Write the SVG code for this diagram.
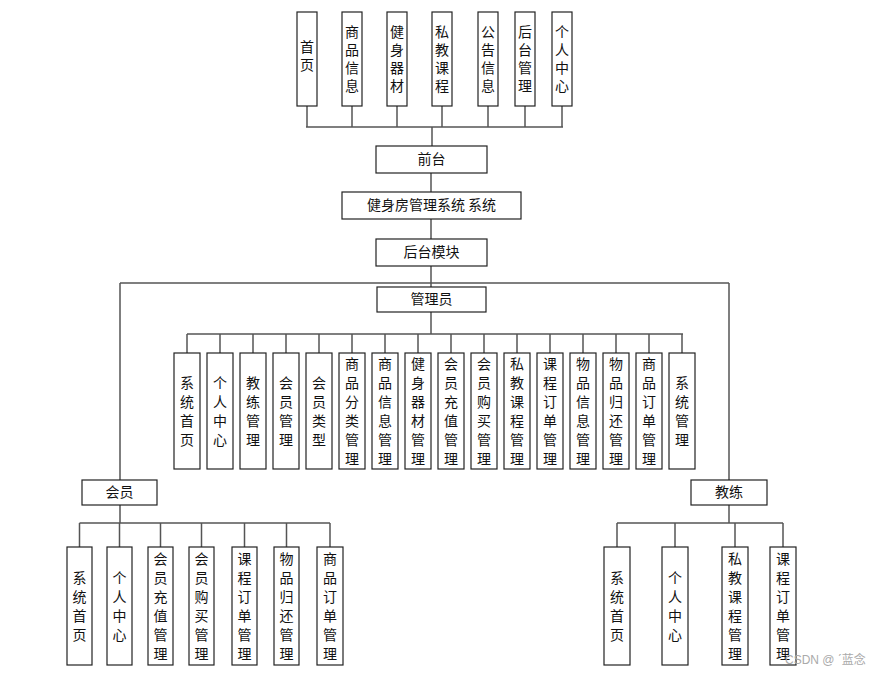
<svg xmlns="http://www.w3.org/2000/svg" width="888" height="674" viewBox="0 0 888 674">
<style>
.b{fill:#fff;stroke:#222;stroke-width:1.2}
.t{font-family:"Noto Sans CJK SC","Liberation Sans",sans-serif;font-size:14px;fill:#111;text-anchor:middle}
.c{fill:none;stroke:#555;stroke-width:1.5}
.w{font-family:"Liberation Sans","Noto Sans CJK SC",sans-serif;font-size:12px;fill:#aaa}
</style>
<rect width="888" height="674" fill="#fff"/>
<g id="connectors" class="c">
<path d="M307,106V127M352,106V127M397,106V127M442,106V127M488,106V127M525,106V127M562,106V127M306,127H563M432,127V146"/>
<path d="M431,173V192M431,219V239M431,266V287M120,283H729M120,283V480M729,283V480"/>
<path d="M431,312V334M187,334H683M187,334V353M220,334V353M253,334V353M286,334V353M319,334V353M352,334V353M385,334V353M418,334V353M451,334V353M484,334V353M517,334V353M550,334V353M583,334V353M616,334V353M649,334V353M682,334V353"/>
<path d="M120,505V523M79.5,523H330M79.5,523V547M119.5,523V547M160.5,523V547M201.5,523V547M244.5,523V547M286.5,523V547M330,523V547"/>
<path d="M729,505V523M617,523H783M617,523V547M675,523V547M735,523V547M783,523V547"/>
</g>
<g id="top-shouye"><rect class="b" x="297" y="12" width="20" height="94"/><text class="t" x="307 307" y="52 70">首页</text></g>
<g id="top-shangpin"><rect class="b" x="342" y="12" width="20" height="94"/><text class="t" x="352 352 352 352" y="37 55 73 91">商品信息</text></g>
<g id="top-qicai"><rect class="b" x="387" y="12" width="20" height="94"/><text class="t" x="397 397 397 397" y="37 55 73 91">健身器材</text></g>
<g id="top-sijiao"><rect class="b" x="432" y="12" width="20" height="94"/><text class="t" x="442 442 442 442" y="37 55 73 91">私教课程</text></g>
<g id="top-gonggao"><rect class="b" x="478" y="12" width="20" height="94"/><text class="t" x="488 488 488 488" y="37 55 73 91">公告信息</text></g>
<g id="top-houtai"><rect class="b" x="515" y="12" width="20" height="94"/><text class="t" x="525 525 525 525" y="37 55 73 91">后台管理</text></g>
<g id="top-geren"><rect class="b" x="552" y="12" width="20" height="94"/><text class="t" x="562 562 562 562" y="37 55 73 91">个人中心</text></g>
<g id="qiantai"><rect class="b" x="376" y="146" width="111" height="27"/><text class="t" x="431.5" y="164">前台</text></g>
<g id="system"><rect class="b" x="342" y="192" width="179" height="27"/><text class="t" x="431.5" y="210">健身房管理系统 系统</text></g>
<g id="houtai"><rect class="b" x="376" y="239" width="111" height="27"/><text class="t" x="431.5" y="257">后台模块</text></g>
<g id="admin"><rect class="b" x="377" y="287" width="109" height="25"/><text class="t" x="431.5" y="304">管理员</text></g>
<g id="a1"><rect class="b" x="174" y="353" width="26" height="116"/><text class="t" x="187 187 187 187" y="388 407 426 445">系统首页</text></g>
<g id="a2"><rect class="b" x="207" y="353" width="26" height="116"/><text class="t" x="220 220 220 220" y="388 407 426 445">个人中心</text></g>
<g id="a3"><rect class="b" x="240" y="353" width="26" height="116"/><text class="t" x="253 253 253 253" y="388 407 426 445">教练管理</text></g>
<g id="a4"><rect class="b" x="273" y="353" width="26" height="116"/><text class="t" x="286 286 286 286" y="388 407 426 445">会员管理</text></g>
<g id="a5"><rect class="b" x="306" y="353" width="26" height="116"/><text class="t" x="319 319 319 319" y="388 407 426 445">会员类型</text></g>
<g id="a6"><rect class="b" x="339" y="353" width="26" height="116"/><text class="t" x="352 352 352 352 352 352" y="369 388 407 426 445 464">商品分类管理</text></g>
<g id="a7"><rect class="b" x="372" y="353" width="26" height="116"/><text class="t" x="385 385 385 385 385 385" y="369 388 407 426 445 464">商品信息管理</text></g>
<g id="a8"><rect class="b" x="405" y="353" width="26" height="116"/><text class="t" x="418 418 418 418 418 418" y="369 388 407 426 445 464">健身器材管理</text></g>
<g id="a9"><rect class="b" x="438" y="353" width="26" height="116"/><text class="t" x="451 451 451 451 451 451" y="369 388 407 426 445 464">会员充值管理</text></g>
<g id="a10"><rect class="b" x="471" y="353" width="26" height="116"/><text class="t" x="484 484 484 484 484 484" y="369 388 407 426 445 464">会员购买管理</text></g>
<g id="a11"><rect class="b" x="504" y="353" width="26" height="116"/><text class="t" x="517 517 517 517 517 517" y="369 388 407 426 445 464">私教课程管理</text></g>
<g id="a12"><rect class="b" x="537" y="353" width="26" height="116"/><text class="t" x="550 550 550 550 550 550" y="369 388 407 426 445 464">课程订单管理</text></g>
<g id="a13"><rect class="b" x="570" y="353" width="26" height="116"/><text class="t" x="583 583 583 583 583 583" y="369 388 407 426 445 464">物品信息管理</text></g>
<g id="a14"><rect class="b" x="603" y="353" width="26" height="116"/><text class="t" x="616 616 616 616 616 616" y="369 388 407 426 445 464">物品归还管理</text></g>
<g id="a15"><rect class="b" x="636" y="353" width="26" height="116"/><text class="t" x="649 649 649 649 649 649" y="369 388 407 426 445 464">商品订单管理</text></g>
<g id="a16"><rect class="b" x="669" y="353" width="26" height="116"/><text class="t" x="682 682 682 682" y="388 407 426 445">系统管理</text></g>
<g id="member"><rect class="b" x="82" y="480" width="75" height="25"/><text class="t" x="119.5" y="497">会员</text></g>
<g id="m1"><rect class="b" x="67" y="547" width="25" height="118"/><text class="t" x="79.5 79.5 79.5 79.5" y="583 602 621 640">系统首页</text></g>
<g id="m2"><rect class="b" x="107" y="547" width="25" height="118"/><text class="t" x="119.5 119.5 119.5 119.5" y="583 602 621 640">个人中心</text></g>
<g id="m3"><rect class="b" x="148" y="547" width="25" height="118"/><text class="t" x="160.5 160.5 160.5 160.5 160.5 160.5" y="564 583 602 621 640 659">会员充值管理</text></g>
<g id="m4"><rect class="b" x="189" y="547" width="25" height="118"/><text class="t" x="201.5 201.5 201.5 201.5 201.5 201.5" y="564 583 602 621 640 659">会员购买管理</text></g>
<g id="m5"><rect class="b" x="232" y="547" width="25" height="118"/><text class="t" x="244.5 244.5 244.5 244.5 244.5 244.5" y="564 583 602 621 640 659">课程订单管理</text></g>
<g id="m6"><rect class="b" x="274" y="547" width="25" height="118"/><text class="t" x="286.5 286.5 286.5 286.5 286.5 286.5" y="564 583 602 621 640 659">物品归还管理</text></g>
<g id="m7"><rect class="b" x="317" y="547" width="26" height="118"/><text class="t" x="330 330 330 330 330 330" y="564 583 602 621 640 659">商品订单管理</text></g>
<g id="coach"><rect class="b" x="691" y="480" width="76" height="25"/><text class="t" x="729" y="497">教练</text></g>
<g id="c1"><rect class="b" x="604" y="547" width="26" height="118"/><text class="t" x="617 617 617 617" y="583 602 621 640">系统首页</text></g>
<g id="c2"><rect class="b" x="662" y="547" width="26" height="118"/><text class="t" x="675 675 675 675" y="583 602 621 640">个人中心</text></g>
<g id="c3"><rect class="b" x="722" y="547" width="26" height="118"/><text class="t" x="735 735 735 735 735 735" y="564 583 602 621 640 659">私教课程管理</text></g>
<g id="c4"><rect class="b" x="770" y="547" width="26" height="118"/><text class="t" x="783 783 783 783 783 783" y="564 583 602 621 640 659">课程订单管理</text></g>
<text class="w" x="785" y="664">CSDN @ ˊ蓝念</text>
</svg>
